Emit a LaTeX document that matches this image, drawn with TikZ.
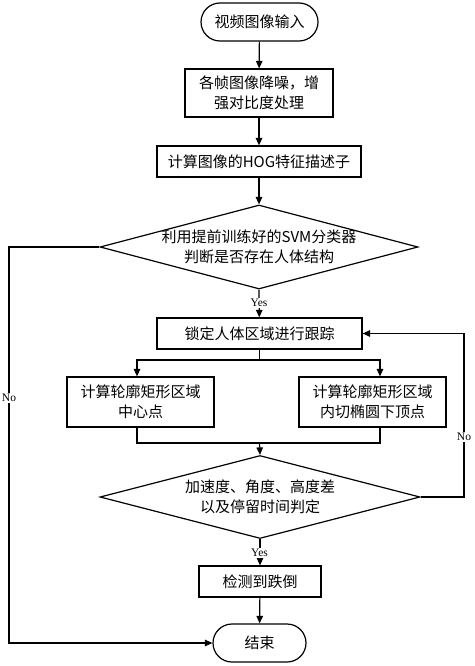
\documentclass[tikz,border=0pt]{standalone}
\usepackage{fontspec}
\setmainfont{Liberation Serif}
\newfontfamily\cjk{Noto Sans CJK SC}
\usepackage{tikz}
\usetikzlibrary{arrows.meta, positioning, shapes.geometric}
\tikzset{every node/.style={font=\cjk\fontsize{15}{20}\selectfont}}
\tikzset{
  procbox/.style={draw, line width=1.2pt, align=center, inner sep=2pt},
  terminal/.style={draw, line width=1.2pt, rounded corners=19pt, minimum height=38pt, inner sep=2pt},
  decision/.style={draw, line width=1.2pt, diamond, aspect=3.8, align=center, inner sep=0pt, inner xsep=-4pt},
  flow/.style={line width=1.2pt, -{Triangle[length=7.5pt, width=6.5pt]}},
  plain/.style={line width=1.2pt},
  tag/.style={font=\rmfamily\fontsize{11.5}{13}\selectfont, fill=white, inner sep=1pt}
}

\begin{document}
\begin{tikzpicture}[x=1pt, y=-1pt]
    \useasboundingbox (0,0) rectangle (474,666);
    \node[terminal, minimum width=117pt] (start) at (259.5,22) {视频图像输入};
    \node[procbox, minimum width=148pt, minimum height=48pt] (denoise) at (259,93) {各帧图像降噪，增\\强对比度处理};
    \node[procbox, minimum width=204pt, minimum height=31pt] (hog) at (259,161.5) {计算图像的HOG特征描述子};
    \node[decision, minimum width=318pt, minimum height=84pt] (svm) at (259,247) {利用提前训练好的SVM分类器\\判断是否存在人体结构};
    \node[procbox, minimum width=205pt, minimum height=31pt] (track) at (259.5,333.5) {锁定人体区域进行跟踪};
    \node[procbox, minimum width=147pt, minimum height=50pt] (center) at (140.5,402) {计算轮廓矩形区域\\中心点};
    \node[procbox, minimum width=147pt, minimum height=50pt] (vertex) at (372.5,402) {计算轮廓矩形区域\\内切椭圆下顶点};
    \node[decision, minimum width=320pt, minimum height=83pt] (judge) at (260,497) {加速度、角度、高度差\\以及停留时间判定};
    \node[procbox, minimum width=122pt, minimum height=31pt] (fall) at (260,581.5) {检测到跌倒};
    \node[terminal, minimum width=93pt] (end) at (259.5,643) {结束};

    \coordinate (split) at (259.5,360);
    \coordinate (merge) at (259.5,443);
    \coordinate (lcol) at (9,247);
    \coordinate (rcol) at (464,497);

    \draw[flow] (start) -- (denoise);
    \draw[flow] (denoise) -- (hog);
    \draw[flow] (hog) -- (svm.north);
    \draw[flow] (svm.south) -- (track);
    \draw[plain] (track) -- (split);
    \draw[flow] (split) -| ([xshift=-3.5pt]center.north);
    \draw[flow] (split) -| ([xshift=7.5pt]vertex.north);
    \draw[plain] ([xshift=-3.5pt]center.south) |- (merge) -| ([xshift=7.5pt]vertex.south);
    \draw[flow] (merge) -- (judge.north);
    \draw[flow] (judge.south) -- (fall);
    \draw[flow] (fall) -- (end);
    \draw[flow] (svm.west) -- (svm.west -| lcol) |- (end.west);
    \draw[flow] (judge.east) -- (judge.east -| rcol) |- (track.east);

    \node[tag] (yes1) at (259,303) {Yes};
    \node[tag] (yes2) at (259.5,553) {Yes};
    \node[tag] (no1) at (9,398) {No};
    \node[tag] (no2) at (464,437) {No};
  \end{tikzpicture}
\end{document}
